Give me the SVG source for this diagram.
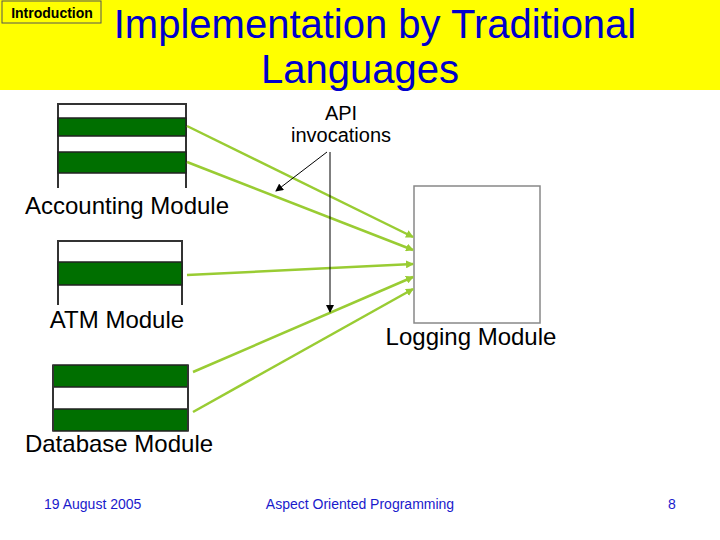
<svg xmlns="http://www.w3.org/2000/svg" width="720" height="540" viewBox="0 0 720 540">
<style>
text{font-family:"Liberation Sans",Arial,sans-serif}
.lbl{font-size:24px;fill:#000}
.g{fill:#006f00;stroke:#222;stroke-width:1.5}
.box{fill:none;stroke:#333;stroke-width:2}
.ln{stroke:#99cc33;stroke-width:2.5;fill:none}
.blk{stroke:#000;stroke-width:1;fill:none}
.foot{font-size:14px;fill:#1a1acc}
</style>
<defs>
<marker id="ga" markerWidth="8" markerHeight="8" refX="7" refY="4" orient="auto" markerUnits="userSpaceOnUse"><path d="M0,0 L8,4 L0,8 z" fill="#99cc33"/></marker>
<marker id="ba" markerWidth="8" markerHeight="8" refX="7" refY="4" orient="auto" markerUnits="userSpaceOnUse"><path d="M0,0 L8,4 L0,8 z" fill="#000"/></marker>
</defs>
<rect x="0" y="0" width="720" height="90" fill="#ffff00"/>
<rect x="2" y="1" width="99" height="22" fill="#ffff00" stroke="#555" stroke-width="1"/>
<text x="52" y="18" text-anchor="middle" font-size="14" font-weight="bold">Introduction</text>
<text x="375" y="38" text-anchor="middle" font-size="40" fill="#0000cc">Implementation by Traditional</text>
<text x="360" y="83" text-anchor="middle" font-size="40" fill="#0000cc">Languages</text>
<g id="accounting">
<path class="box" d="M58,188 V104 H186 V188"/>
<rect class="g" x="58" y="118" width="128" height="18"/>
<rect class="g" x="58" y="152" width="128" height="21"/>
<text class="lbl" x="127" y="214" text-anchor="middle">Accounting Module</text>
</g>
<g id="atm">
<path class="box" d="M58,305 V241 H182 V305"/>
<rect class="g" x="58" y="262" width="124" height="23"/>
<text class="lbl" x="117" y="328" text-anchor="middle">ATM Module</text>
</g>
<g id="database">
<rect class="g" x="53" y="365" width="135" height="22"/>
<rect class="g" x="53" y="409" width="135" height="22"/>
<path class="box" d="M53,365 V431 M188,365 V431"/>
<text class="lbl" x="119" y="452" text-anchor="middle">Database Module</text>
</g>
<g id="logging">
<rect x="414" y="186" width="126" height="137" fill="#fff" stroke="#888" stroke-width="1.5"/>
<text class="lbl" x="471" y="345" text-anchor="middle">Logging Module</text>
</g>
<g id="api">
<text x="341" y="120" text-anchor="middle" font-size="20">API</text>
<text x="341" y="142" text-anchor="middle" font-size="20">invocations</text>
</g>
<g id="connectors">
<line class="ln" x1="187" y1="126" x2="413" y2="237" marker-end="url(#ga)"/>
<line class="ln" x1="187" y1="162" x2="413" y2="250" marker-end="url(#ga)"/>
<line class="ln" x1="187" y1="275" x2="413" y2="264" marker-end="url(#ga)"/>
<line class="ln" x1="193" y1="372" x2="413" y2="277" marker-end="url(#ga)"/>
<line class="ln" x1="193" y1="412" x2="413" y2="289" marker-end="url(#ga)"/>
<line class="blk" x1="327" y1="152" x2="276" y2="191" marker-end="url(#ba)"/>
<line class="blk" x1="330" y1="152" x2="330" y2="312" marker-end="url(#ba)"/>
</g>
<text class="foot" x="44" y="509">19 August 2005</text>
<text class="foot" x="360" y="509" text-anchor="middle">Aspect Oriented Programming</text>
<text class="foot" x="668" y="509">8</text>
</svg>
